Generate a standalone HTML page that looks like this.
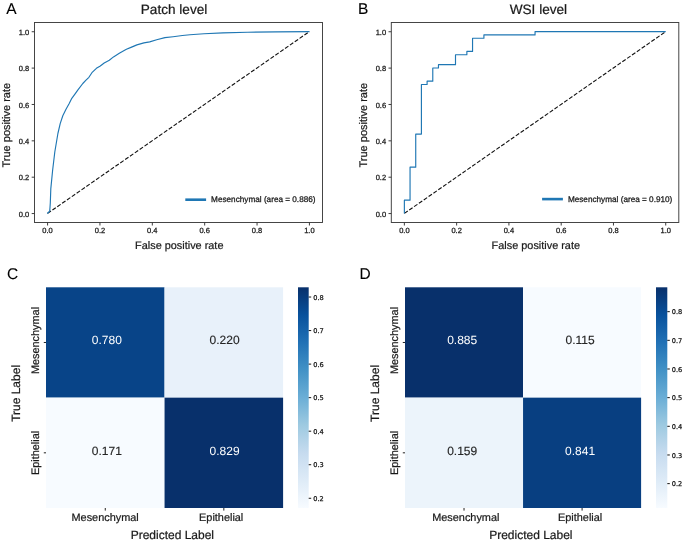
<!DOCTYPE html>
<html lang="en"><head><meta charset="utf-8"><title>ROC curves and confusion matrices</title>
<style>
html,body{margin:0;padding:0;background:#fff}
svg{display:block;font-family:"Liberation Sans", Arial, sans-serif;text-rendering:geometricPrecision}
</style></head><body>
<svg width="685" height="541" viewBox="0 0 685 541">
<rect width="685" height="541" fill="#fff"/>
<text x="6.2" y="14.0" font-size="15.5" text-anchor="start" fill="#000" stroke="#000" stroke-width="0.1">A</text>
<text x="174.05" y="14.4" font-size="13.6" text-anchor="middle" fill="#1a1a1a" stroke="#1a1a1a" stroke-width="0.22">Patch level</text>
<path d="M47.59 213.41L309.41 31.59" fill="none" stroke="#111" stroke-width="1.1" stroke-dasharray="4.1 1.8"/>
<path d="M47.30 213.50L49.70 211.10L50.00 207.50L50.30 203.00L50.80 188.90L52.60 170.50L54.80 152.00L57.90 133.50L60.20 123.60L62.80 115.80L66.00 109.30L69.20 103.50L71.80 98.30L75.10 93.80L78.30 89.30L82.80 83.50L86.00 80.20L88.90 77.30L91.90 72.70L96.40 68.30L100.30 66.00L104.20 63.00L109.30 60.20L113.50 56.90L119.30 53.30L126.40 49.30L131.00 47.40L136.90 44.90L143.90 42.90L149.70 41.90L156.70 39.80L164.90 37.60L173.10 36.70L182.40 35.50L190.00 34.80L204.00 33.70L223.00 32.90L247.60 32.20L276.00 31.85L309.40 31.60" fill="none" stroke="#1f77b4" stroke-width="1.15" stroke-linejoin="round"/>
<rect x="34.5" y="22.5" width="288.0" height="200.0" fill="none" stroke="#3c3c3c" stroke-width="0.95"/>
<path d="M47.59 222.5v3M34.5 213.56h-2.8" stroke="#333" stroke-width="0.95" fill="none"/>
<text x="47.59" y="233.4" font-size="7.5" text-anchor="middle" fill="#1a1a1a" stroke="#1a1a1a" stroke-width="0.26">0.0</text>
<text x="29.3" y="216.76" font-size="7.5" text-anchor="end" fill="#1a1a1a" stroke="#1a1a1a" stroke-width="0.26">0.0</text>
<path d="M99.95 222.5v3M34.5 177.20h-2.8" stroke="#333" stroke-width="0.95" fill="none"/>
<text x="99.95" y="233.4" font-size="7.5" text-anchor="middle" fill="#1a1a1a" stroke="#1a1a1a" stroke-width="0.26">0.2</text>
<text x="29.3" y="180.4" font-size="7.5" text-anchor="end" fill="#1a1a1a" stroke="#1a1a1a" stroke-width="0.26">0.2</text>
<path d="M152.32 222.5v3M34.5 140.83h-2.8" stroke="#333" stroke-width="0.95" fill="none"/>
<text x="152.32" y="233.4" font-size="7.5" text-anchor="middle" fill="#1a1a1a" stroke="#1a1a1a" stroke-width="0.26">0.4</text>
<text x="29.3" y="144.03" font-size="7.5" text-anchor="end" fill="#1a1a1a" stroke="#1a1a1a" stroke-width="0.26">0.4</text>
<path d="M204.68 222.5v3M34.5 104.47h-2.8" stroke="#333" stroke-width="0.95" fill="none"/>
<text x="204.68" y="233.4" font-size="7.5" text-anchor="middle" fill="#1a1a1a" stroke="#1a1a1a" stroke-width="0.26">0.6</text>
<text x="29.3" y="107.67" font-size="7.5" text-anchor="end" fill="#1a1a1a" stroke="#1a1a1a" stroke-width="0.26">0.6</text>
<path d="M257.05 222.5v3M34.5 68.10h-2.8" stroke="#333" stroke-width="0.95" fill="none"/>
<text x="257.05" y="233.4" font-size="7.5" text-anchor="middle" fill="#1a1a1a" stroke="#1a1a1a" stroke-width="0.26">0.8</text>
<text x="29.3" y="71.3" font-size="7.5" text-anchor="end" fill="#1a1a1a" stroke="#1a1a1a" stroke-width="0.26">0.8</text>
<path d="M309.41 222.5v3M34.5 31.74h-2.8" stroke="#333" stroke-width="0.95" fill="none"/>
<text x="309.41" y="233.4" font-size="7.5" text-anchor="middle" fill="#1a1a1a" stroke="#1a1a1a" stroke-width="0.26">1.0</text>
<text x="29.3" y="34.94" font-size="7.5" text-anchor="end" fill="#1a1a1a" stroke="#1a1a1a" stroke-width="0.26">1.0</text>
<text x="179.25" y="249.35" font-size="10.9" text-anchor="middle" fill="#1a1a1a" stroke="#1a1a1a" stroke-width="0.22">False positive rate</text>
<text x="10.1" y="125.2" font-size="11" text-anchor="middle" fill="#1a1a1a" transform="rotate(-90 10.1 125.2)" stroke="#1a1a1a" stroke-width="0.22">True positive rate</text>
<path d="M185.30 199.70h20.8" stroke="#1f77b4" stroke-width="2.6" fill="none"/>
<text x="211.1" y="202.1" font-size="8.2" text-anchor="start" fill="#1a1a1a" stroke="#1a1a1a" stroke-width="0.26">Mesenchymal (area = 0.886)</text>
<text x="357.9" y="14.0" font-size="15.5" text-anchor="start" fill="#000" stroke="#000" stroke-width="0.1">B</text>
<text x="538.4" y="14.4" font-size="13.6" text-anchor="middle" fill="#1a1a1a" stroke="#1a1a1a" stroke-width="0.22">WSI level</text>
<path d="M404.37 213.41L665.73 31.59" fill="none" stroke="#111" stroke-width="1.1" stroke-dasharray="4.1 1.8"/>
<path d="M404.37 213.41L404.37 200.19L410.05 200.19L410.05 167.13L415.73 167.13L415.73 134.07L421.41 134.07L421.41 84.48L427.10 84.48L427.10 81.18L432.78 81.18L432.78 67.95L438.46 67.95L438.46 64.65L455.50 64.65L455.50 54.73L466.87 54.73L466.87 51.43L472.55 51.43L472.55 38.20L483.91 38.20L483.91 34.90L535.05 34.90L535.05 31.59L665.73 31.59" fill="none" stroke="#1f77b4" stroke-width="1.15" stroke-linejoin="round"/>
<rect x="391.3" y="22.5" width="287.49999999999994" height="200.0" fill="none" stroke="#3c3c3c" stroke-width="0.95"/>
<path d="M404.37 222.5v3M391.3 213.56h-2.8" stroke="#333" stroke-width="0.95" fill="none"/>
<text x="404.37" y="233.4" font-size="7.5" text-anchor="middle" fill="#1a1a1a" stroke="#1a1a1a" stroke-width="0.26">0.0</text>
<text x="386.1" y="216.76" font-size="7.5" text-anchor="end" fill="#1a1a1a" stroke="#1a1a1a" stroke-width="0.26">0.0</text>
<path d="M456.64 222.5v3M391.3 177.20h-2.8" stroke="#333" stroke-width="0.95" fill="none"/>
<text x="456.64" y="233.4" font-size="7.5" text-anchor="middle" fill="#1a1a1a" stroke="#1a1a1a" stroke-width="0.26">0.2</text>
<text x="386.1" y="180.4" font-size="7.5" text-anchor="end" fill="#1a1a1a" stroke="#1a1a1a" stroke-width="0.26">0.2</text>
<path d="M508.91 222.5v3M391.3 140.83h-2.8" stroke="#333" stroke-width="0.95" fill="none"/>
<text x="508.91" y="233.4" font-size="7.5" text-anchor="middle" fill="#1a1a1a" stroke="#1a1a1a" stroke-width="0.26">0.4</text>
<text x="386.1" y="144.03" font-size="7.5" text-anchor="end" fill="#1a1a1a" stroke="#1a1a1a" stroke-width="0.26">0.4</text>
<path d="M561.19 222.5v3M391.3 104.47h-2.8" stroke="#333" stroke-width="0.95" fill="none"/>
<text x="561.19" y="233.4" font-size="7.5" text-anchor="middle" fill="#1a1a1a" stroke="#1a1a1a" stroke-width="0.26">0.6</text>
<text x="386.1" y="107.67" font-size="7.5" text-anchor="end" fill="#1a1a1a" stroke="#1a1a1a" stroke-width="0.26">0.6</text>
<path d="M613.46 222.5v3M391.3 68.10h-2.8" stroke="#333" stroke-width="0.95" fill="none"/>
<text x="613.46" y="233.4" font-size="7.5" text-anchor="middle" fill="#1a1a1a" stroke="#1a1a1a" stroke-width="0.26">0.8</text>
<text x="386.1" y="71.3" font-size="7.5" text-anchor="end" fill="#1a1a1a" stroke="#1a1a1a" stroke-width="0.26">0.8</text>
<path d="M665.73 222.5v3M391.3 31.74h-2.8" stroke="#333" stroke-width="0.95" fill="none"/>
<text x="665.73" y="233.4" font-size="7.5" text-anchor="middle" fill="#1a1a1a" stroke="#1a1a1a" stroke-width="0.26">1.0</text>
<text x="386.1" y="34.94" font-size="7.5" text-anchor="end" fill="#1a1a1a" stroke="#1a1a1a" stroke-width="0.26">1.0</text>
<text x="535.8" y="249.35" font-size="10.9" text-anchor="middle" fill="#1a1a1a" stroke="#1a1a1a" stroke-width="0.22">False positive rate</text>
<text x="366.9" y="125.2" font-size="11" text-anchor="middle" fill="#1a1a1a" transform="rotate(-90 366.9 125.2)" stroke="#1a1a1a" stroke-width="0.22">True positive rate</text>
<path d="M542.10 199.10h20.8" stroke="#1f77b4" stroke-width="2.6" fill="none"/>
<text x="567.9" y="201.5" font-size="8.2" text-anchor="start" fill="#1a1a1a" stroke="#1a1a1a" stroke-width="0.26">Mesenchymal (area = 0.910)</text>
<text x="7.0" y="278.7" font-size="15.5" text-anchor="start" fill="#000" stroke="#000" stroke-width="0.1">C</text>
<rect x="46.00" y="287.30" width="118.55" height="110.35" fill="#084488"/>
<text x="106.85" y="344.18" font-size="12" text-anchor="middle" fill="#ffffff">0.780</text>
<rect x="164.55" y="287.30" width="118.55" height="110.35" fill="#e8f1fa"/>
<text x="224.6" y="344.18" font-size="12" text-anchor="middle" fill="#262626" stroke="#262626" stroke-width="0.15">0.220</text>
<rect x="46.00" y="397.65" width="118.55" height="110.35" fill="#f7fbff"/>
<text x="106.85" y="454.52" font-size="12" text-anchor="middle" fill="#262626" stroke="#262626" stroke-width="0.15">0.171</text>
<rect x="164.55" y="397.65" width="118.55" height="110.35" fill="#08306b"/>
<text x="224.6" y="454.52" font-size="12" text-anchor="middle" fill="#ffffff">0.829</text>
<path d="M105.28 508.0v2.6" stroke="#222" stroke-width="1"/>
<text x="105.1" y="521.2" font-size="10.9" text-anchor="middle" fill="#1a1a1a" stroke="#1a1a1a" stroke-width="0.22">Mesenchymal</text>
<path d="M223.83 508.0v2.6" stroke="#222" stroke-width="1"/>
<text x="221.2" y="521.2" font-size="10.9" text-anchor="middle" fill="#1a1a1a" stroke="#1a1a1a" stroke-width="0.22">Epithelial</text>
<path d="M46.0 342.48h-2.2" stroke="#222" stroke-width="1"/>
<text x="38.7" y="340.48" font-size="10.9" text-anchor="middle" fill="#1a1a1a" transform="rotate(-90 38.7 340.48)" stroke="#1a1a1a" stroke-width="0.22">Mesenchymal</text>
<path d="M46.0 452.82h-2.2" stroke="#222" stroke-width="1"/>
<text x="38.7" y="452.93" font-size="10.9" text-anchor="middle" fill="#1a1a1a" transform="rotate(-90 38.7 452.93)" stroke="#1a1a1a" stroke-width="0.22">Epithelial</text>
<text x="172.35" y="538.5" font-size="12" text-anchor="middle" fill="#1a1a1a" stroke="#1a1a1a" stroke-width="0.22">Predicted Label</text>
<text x="20.2" y="393.4" font-size="12" text-anchor="middle" fill="#1a1a1a" transform="rotate(-90 20.2 393.4)" stroke="#1a1a1a" stroke-width="0.22">True Label</text>
<defs><linearGradient id="gC" x1="0" y1="1" x2="0" y2="0"><stop offset="0.0" stop-color="#f7fbff"/><stop offset="0.125" stop-color="#deebf7"/><stop offset="0.25" stop-color="#c6dbef"/><stop offset="0.375" stop-color="#9ecae1"/><stop offset="0.5" stop-color="#6baed6"/><stop offset="0.625" stop-color="#4292c6"/><stop offset="0.75" stop-color="#2171b5"/><stop offset="0.875" stop-color="#08519c"/><stop offset="1.0" stop-color="#08306b"/></linearGradient></defs>
<rect x="298.0" y="287.3" width="10.70" height="220.70" fill="url(#gC)"/>
<path d="M308.7 498.27h2.5" stroke="#111" stroke-width="1"/>
<text x="313.2" y="500.87" font-size="6.6" text-anchor="start" fill="#151515" font-family='"DejaVu Sans", sans-serif' stroke="#151515" stroke-width="0.25">0.2</text>
<path d="M308.7 464.73h2.5" stroke="#111" stroke-width="1"/>
<text x="313.2" y="467.33" font-size="6.6" text-anchor="start" fill="#151515" font-family='"DejaVu Sans", sans-serif' stroke="#151515" stroke-width="0.25">0.3</text>
<path d="M308.7 431.19h2.5" stroke="#111" stroke-width="1"/>
<text x="313.2" y="433.79" font-size="6.6" text-anchor="start" fill="#151515" font-family='"DejaVu Sans", sans-serif' stroke="#151515" stroke-width="0.25">0.4</text>
<path d="M308.7 397.65h2.5" stroke="#111" stroke-width="1"/>
<text x="313.2" y="400.25" font-size="6.6" text-anchor="start" fill="#151515" font-family='"DejaVu Sans", sans-serif' stroke="#151515" stroke-width="0.25">0.5</text>
<path d="M308.7 364.11h2.5" stroke="#111" stroke-width="1"/>
<text x="313.2" y="366.71" font-size="6.6" text-anchor="start" fill="#151515" font-family='"DejaVu Sans", sans-serif' stroke="#151515" stroke-width="0.25">0.6</text>
<path d="M308.7 330.57h2.5" stroke="#111" stroke-width="1"/>
<text x="313.2" y="333.17" font-size="6.6" text-anchor="start" fill="#151515" font-family='"DejaVu Sans", sans-serif' stroke="#151515" stroke-width="0.25">0.7</text>
<path d="M308.7 297.03h2.5" stroke="#111" stroke-width="1"/>
<text x="313.2" y="299.63" font-size="6.6" text-anchor="start" fill="#151515" font-family='"DejaVu Sans", sans-serif' stroke="#151515" stroke-width="0.25">0.8</text>
<text x="359.4" y="278.7" font-size="15.5" text-anchor="start" fill="#000" stroke="#000" stroke-width="0.1">D</text>
<rect x="405.00" y="287.30" width="118.05" height="110.35" fill="#08306b"/>
<text x="462.2" y="344.18" font-size="12" text-anchor="middle" fill="#ffffff">0.885</text>
<rect x="523.05" y="287.30" width="118.05" height="110.35" fill="#f7fbff"/>
<text x="580.1" y="344.18" font-size="12" text-anchor="middle" fill="#262626" stroke="#262626" stroke-width="0.15">0.115</text>
<rect x="405.00" y="397.65" width="118.05" height="110.35" fill="#ecf4fb"/>
<text x="462.2" y="454.52" font-size="12" text-anchor="middle" fill="#262626" stroke="#262626" stroke-width="0.15">0.159</text>
<rect x="523.05" y="397.65" width="118.05" height="110.35" fill="#083f81"/>
<text x="580.1" y="454.52" font-size="12" text-anchor="middle" fill="#ffffff">0.841</text>
<path d="M464.02 508.0v2.6" stroke="#222" stroke-width="1"/>
<text x="465.8" y="521.2" font-size="10.9" text-anchor="middle" fill="#1a1a1a" stroke="#1a1a1a" stroke-width="0.22">Mesenchymal</text>
<path d="M582.08 508.0v2.6" stroke="#222" stroke-width="1"/>
<text x="580.15" y="521.2" font-size="10.9" text-anchor="middle" fill="#1a1a1a" stroke="#1a1a1a" stroke-width="0.22">Epithelial</text>
<path d="M405.0 342.48h-2.2" stroke="#222" stroke-width="1"/>
<text x="397.7" y="340.48" font-size="10.9" text-anchor="middle" fill="#1a1a1a" transform="rotate(-90 397.7 340.48)" stroke="#1a1a1a" stroke-width="0.22">Mesenchymal</text>
<path d="M405.0 452.82h-2.2" stroke="#222" stroke-width="1"/>
<text x="397.7" y="452.93" font-size="10.9" text-anchor="middle" fill="#1a1a1a" transform="rotate(-90 397.7 452.93)" stroke="#1a1a1a" stroke-width="0.22">Epithelial</text>
<text x="530.85" y="538.5" font-size="12" text-anchor="middle" fill="#1a1a1a" stroke="#1a1a1a" stroke-width="0.22">Predicted Label</text>
<text x="379.2" y="393.4" font-size="12" text-anchor="middle" fill="#1a1a1a" transform="rotate(-90 379.2 393.4)" stroke="#1a1a1a" stroke-width="0.22">True Label</text>
<defs><linearGradient id="gD" x1="0" y1="1" x2="0" y2="0"><stop offset="0.0" stop-color="#f7fbff"/><stop offset="0.125" stop-color="#deebf7"/><stop offset="0.25" stop-color="#c6dbef"/><stop offset="0.375" stop-color="#9ecae1"/><stop offset="0.5" stop-color="#6baed6"/><stop offset="0.625" stop-color="#4292c6"/><stop offset="0.75" stop-color="#2171b5"/><stop offset="0.875" stop-color="#08519c"/><stop offset="1.0" stop-color="#08306b"/></linearGradient></defs>
<rect x="656.0" y="287.3" width="11.30" height="220.70" fill="url(#gD)"/>
<path d="M667.3 483.64h2.5" stroke="#111" stroke-width="1"/>
<text x="671.8" y="486.24" font-size="6.6" text-anchor="start" fill="#151515" font-family='"DejaVu Sans", sans-serif' stroke="#151515" stroke-width="0.25">0.2</text>
<path d="M667.3 454.97h2.5" stroke="#111" stroke-width="1"/>
<text x="671.8" y="457.57" font-size="6.6" text-anchor="start" fill="#151515" font-family='"DejaVu Sans", sans-serif' stroke="#151515" stroke-width="0.25">0.3</text>
<path d="M667.3 426.31h2.5" stroke="#111" stroke-width="1"/>
<text x="671.8" y="428.91" font-size="6.6" text-anchor="start" fill="#151515" font-family='"DejaVu Sans", sans-serif' stroke="#151515" stroke-width="0.25">0.4</text>
<path d="M667.3 397.65h2.5" stroke="#111" stroke-width="1"/>
<text x="671.8" y="400.25" font-size="6.6" text-anchor="start" fill="#151515" font-family='"DejaVu Sans", sans-serif' stroke="#151515" stroke-width="0.25">0.5</text>
<path d="M667.3 368.99h2.5" stroke="#111" stroke-width="1"/>
<text x="671.8" y="371.59" font-size="6.6" text-anchor="start" fill="#151515" font-family='"DejaVu Sans", sans-serif' stroke="#151515" stroke-width="0.25">0.6</text>
<path d="M667.3 340.33h2.5" stroke="#111" stroke-width="1"/>
<text x="671.8" y="342.93" font-size="6.6" text-anchor="start" fill="#151515" font-family='"DejaVu Sans", sans-serif' stroke="#151515" stroke-width="0.25">0.7</text>
<path d="M667.3 311.66h2.5" stroke="#111" stroke-width="1"/>
<text x="671.8" y="314.26" font-size="6.6" text-anchor="start" fill="#151515" font-family='"DejaVu Sans", sans-serif' stroke="#151515" stroke-width="0.25">0.8</text>
</svg></body></html>
